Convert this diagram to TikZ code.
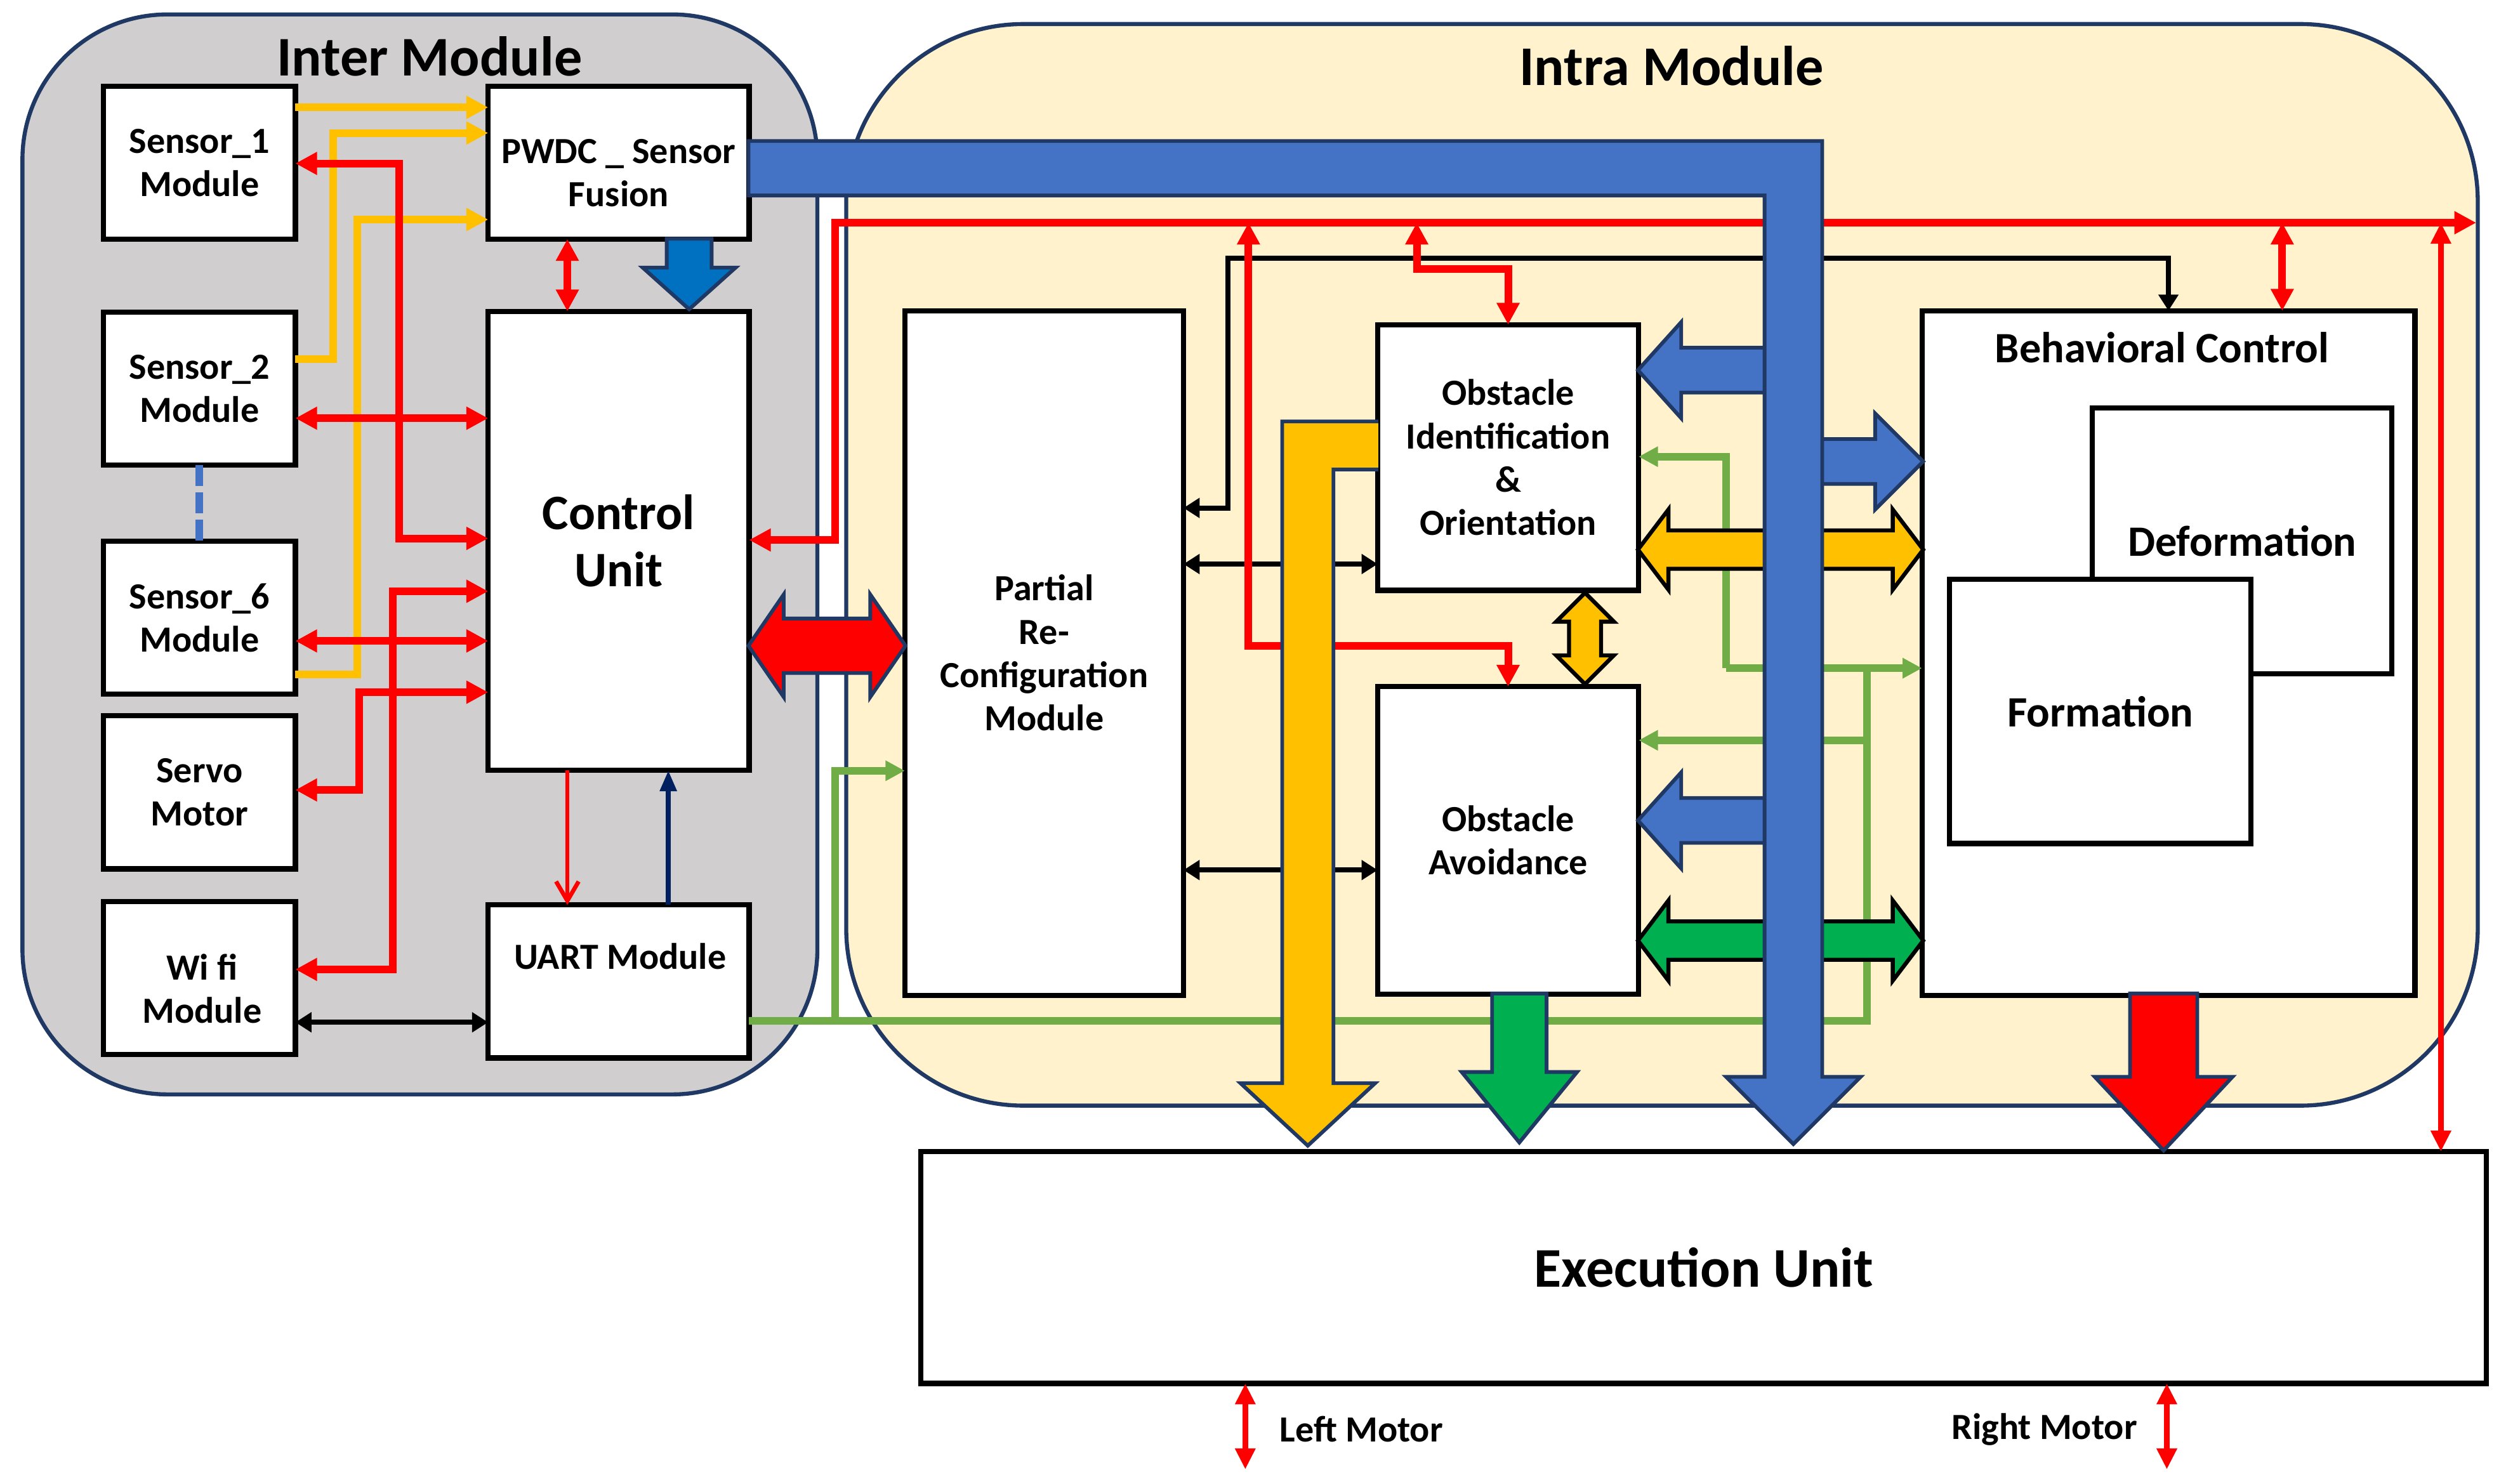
\documentclass[tikz,border=0pt]{standalone}
\usepackage{fontspec}
\setmainfont{Carlito}
\usetikzlibrary{arrows.meta}
\definecolor{cred}{HTML}{FF0000}
\definecolor{corange}{HTML}{FFC000}
\definecolor{cgreenl}{HTML}{70AD47}
\definecolor{cgreen}{HTML}{00B050}
\definecolor{cblue}{HTML}{4472C4}
\definecolor{cblued}{HTML}{0070C0}
\definecolor{cnavy}{HTML}{1F3864}
\definecolor{cnavyd}{HTML}{002060}
\definecolor{cgray}{HTML}{D0CECE}
\definecolor{ccream}{HTML}{FFF2CC}
\begin{document}
\begin{tikzpicture}[x=0.9949pt,y=-0.9949pt,
  container/.style={draw=cnavy,line width=2.5pt,rounded corners=#1},
  modbox/.style={draw=black,line width=3.2pt,fill=white,inner sep=0pt,outer sep=0pt,align=center},
  tsmall/.style={font=\bfseries\fontsize{22.9}{26.9}\selectfont,align=center},
  tmed/.style={font=\bfseries\fontsize{26.9}{31.8}\selectfont,align=center},
  tlarge/.style={font=\bfseries\fontsize{30.8}{35.8}\selectfont,align=center},
  ttitle/.style={font=\bfseries\fontsize{34.8}{41.8}\selectfont},
  redln/.style={draw=cred,line width=4.7pt,>={Triangle[length=13.5pt,width=13.5pt]}},
  redmid/.style={draw=cred,line width=3.5pt,>={Triangle[length=13pt,width=12pt]}},
  orln/.style={draw=corange,line width=4.7pt,>={Triangle[length=13.5pt,width=13.5pt]}},
  grln/.style={draw=cgreenl,line width=4.7pt,>={Triangle[length=12pt,width=12pt]}},
  blkln/.style={draw=black,line width=3.1pt,>={Triangle[length=10pt,width=12pt]}},
  blockn/.style={draw=cnavy,line width=2.3pt,line join=miter},
  blockk/.style={draw=black,line width=2.5pt,line join=miter}
]
\useasboundingbox[fill=white] (0,0) rectangle (1568,926.1);

% containers
\draw[container=90pt,fill=cgray] (14,9) rectangle (510,683);
\draw[container=110pt,fill=ccream] (528,15) rectangle (1546,690);
\node[ttitle] (tinter) at (268,35) {Inter Module};
\node[ttitle] (tintra) at (1043,41) {Intra Module};

% boxes
\node[modbox,tsmall,minimum width=119pt,minimum height=95pt] (s1) at (124.5,101.5) {Sensor\_1\\Module};
\node[modbox,minimum width=162pt,minimum height=95pt] (pw) at (386,101.5) {};
\node[tsmall] (pwt) at (386,108) {PWDC \_ Sensor\\Fusion};
\node[modbox,tsmall,minimum width=119pt,minimum height=95pt] (s2) at (124.5,242.5) {Sensor\_2\\Module};
\node[modbox,tlarge,minimum width=162pt,minimum height=285pt] (cu) at (386,337.5) {Control\\Unit};
\node[modbox,tsmall,minimum width=119pt,minimum height=95pt] (s6) at (124.5,385.5) {Sensor\_6\\Module};
\node[modbox,tsmall,minimum width=119pt,minimum height=95pt] (sv) at (124.5,494.5) {Servo\\Motor};
\node[modbox,minimum width=119pt,minimum height=95pt] (wf) at (124.5,610.5) {};
\node[tsmall] (wft) at (126,617) {Wi fi\\Module};
\node[modbox,minimum width=162pt,minimum height=95pt] (ua) at (386,612.5) {};
\node[tsmall] (uat) at (387,597) {UART Module};
\node[modbox,tsmall,minimum width=173pt,minimum height=425pt] (pr) at (651.5,407.5) {Partial\\Re-\\Configuration\\Module};
\node[modbox,tsmall,minimum width=162pt,minimum height=165pt] (oi) at (941,285.5) {Obstacle\\Identification\\\&\\Orientation};
\node[modbox,tsmall,minimum width=162pt,minimum height=191pt] (oa) at (941,524.5) {Obstacle\\Avoidance};
\node[modbox,minimum width=306pt,minimum height=425pt] (bc) at (1353,407.5) {};
\node[tmed] (bct) at (1349,217) {Behavioral Control};
\node[modbox,tmed,minimum width=186pt,minimum height=165pt] (de) at (1399,337.5) {Deformation};
\node[modbox,tmed,minimum width=187pt,minimum height=164pt] (fo) at (1310.5,444) {Formation};
\node[modbox,ttitle,minimum width=972pt,minimum height=144pt] (eu) at (1063,791) {Execution Unit};

% free ends
\coordinate (busend) at (1545,139);
\coordinate (lm) at (777,917);
\coordinate (rm) at (1352,917);

% dashed link
\draw[cblue,line width=4.7pt,dash pattern=on 13pt off 4pt] (s2.south) -- (s6.north);

% orange connectors
\draw[orln,->] (s1.east |- 0,67) -- (pw.west |- 0,67);
\draw[orln,->] (s2.east |- 0,224) -- (208,224) |- (pw.west |- 0,83);
\draw[orln,->] (s6.east |- 0,421) -- (223,421) |- (pw.west |- 0,137);

% red connectors (inter)
\draw[redln,<->] (s1.east |- 0,102) -- (249,102) |- (cu.west |- 0,336);
\draw[redln,<->] (s2.east |- 0,261) -- (cu.west |- 0,261);
\draw[redln,<->] (pw.south -| 354,0) -- (cu.north -| 354,0);
\draw[redln,<->] (s6.east |- 0,400) -- (cu.west |- 0,400);
\draw[redln,<->] (wf.east |- 0,605) -- (245,605) |- (cu.west |- 0,369);
\draw[redln,<->] (sv.east |- 0,493) -- (224,493) |- (cu.west |- 0,432);
\draw[cred,line width=2.6pt,-{Straight Barb[length=12pt,width=14pt]}] (cu.south -| 354,0) -- (ua.north -| 354,0);
\draw[cnavyd,line width=3pt,-{Triangle[length=13pt,width=10pt]}] (ua.north -| 417,0) -- (cu.south -| 417,0);
\draw[blkln,<->] (wf.east |- 0,638) -- (ua.west |- 0,638);

% green connectors
\draw[grln,->] (ua.east |- 0,637) -- (521,637) |- (pr.west |- 0,481);
\draw[grln] (521,637) -- (1165,637) -- (1165,417);
\draw[grln,->] (1077,417) -- (bc.west |- 0,417);
\draw[grln,->] (1077,417) |- (oi.east |- 0,285);
\draw[grln,->] (1165,462) -- (oa.east |- 0,462);

% black connectors
\draw[blkln,<->] (pr.east |- 0,317) -- (766,317) |- (1353,161) -- (bc.north -| 1353,0);
\draw[blkln,<->] (pr.east |- 0,352) -- (oi.west |- 0,352);
\draw[blkln,<->] (pr.east |- 0,543) -- (oa.west |- 0,543);

% red connectors (intra)
\draw[redln,<->] (cu.east |- 0,337) -- (521,337) -- (521,139) -- (busend);
\draw[redln,<->] (779,139) -- (779,403) -| (oa.north -| 941,0);
\draw[redln,<->] (884,139) -- (884,168) -| (oi.north -| 941,0);
\draw[redln,<->] (1424,139) -- (bc.north -| 1424,0);
\draw[redmid,<->] (1523,139) -- (eu.north -| 1523,0);

% motors
\draw[redmid,<->] (eu.south -| 777,0) -- (lm);
\draw[redmid,<->] (eu.south -| 1352,0) -- (rm);
\node[tsmall,anchor=west] (lmt) at (795,892) {Left Motor};
\node[tsmall,anchor=east] (rmt) at (1337,892) {Right Motor};

% block arrows
\fill[corange] (860,263) -- (800,263) -- (800,676) -- (774,676) -- (816,715) -- (858,676) -- (832,676) -- (832,293) -- (860,293) -- cycle;
\draw[blockn] (860,263) -- (800,263) -- (800,676) -- (774,676) -- (816,715) -- (858,676) -- (832,676) -- (832,293) -- (860,293);
\draw[blockn,fill=cgreen] (931,620) -- (931,669) -- (912,669) -- (948,713) -- (984,669) -- (965,669) -- (965,620) -- cycle;
\draw[blockn,fill=cred] (1329,620) -- (1329,672) -- (1307,672) -- (1350,718) -- (1393,672) -- (1371,672) -- (1371,620) -- cycle;
\draw[blockn,fill=cblued] (416,149) -- (416,167) -- (401,167) -- (430,193) -- (459,167) -- (444,167) -- (444,149) -- cycle;
\draw[blockk,fill=corange] (1022,343) -- (1041,318) -- (1041,331) -- (1181,331) -- (1181,318) -- (1200,343) -- (1181,368) -- (1181,355) -- (1041,355) -- (1041,368) -- cycle;
\draw[blockk,fill=cgreen] (1022,587) -- (1041,562) -- (1041,575) -- (1181,575) -- (1181,562) -- (1200,587) -- (1181,612) -- (1181,599) -- (1041,599) -- (1041,612) -- cycle;
\draw[blockk,fill=corange] (989,370) -- (1007,388) -- (999,388) -- (999,409) -- (1007,409) -- (989,427) -- (971,409) -- (979,409) -- (979,388) -- (971,388) -- cycle;
\draw[blockn,fill=cred] (467,403) -- (489,371) -- (489,386) -- (543,386) -- (543,371) -- (565,403) -- (543,435) -- (543,420) -- (489,420) -- (489,435) -- cycle;
\draw[blockn,fill=cblue] (1104,217) -- (1049,217) -- (1049,201) -- (1022,231) -- (1049,261) -- (1049,245) -- (1104,245) -- cycle;
\draw[blockn,fill=cblue] (1134,274) -- (1170,274) -- (1170,258) -- (1200,288) -- (1170,318) -- (1170,302) -- (1134,302) -- cycle;
\draw[blockn,fill=cblue] (1104,498) -- (1049,498) -- (1049,482) -- (1022,512) -- (1049,542) -- (1049,526) -- (1104,526) -- cycle;
\draw[blockn,fill=cblue] (467,88) -- (1137,88) -- (1137,672) -- (1161,672) -- (1119,714) -- (1077,672) -- (1101,672) -- (1101,122) -- (467,122) -- cycle;
\end{tikzpicture}
\end{document}
